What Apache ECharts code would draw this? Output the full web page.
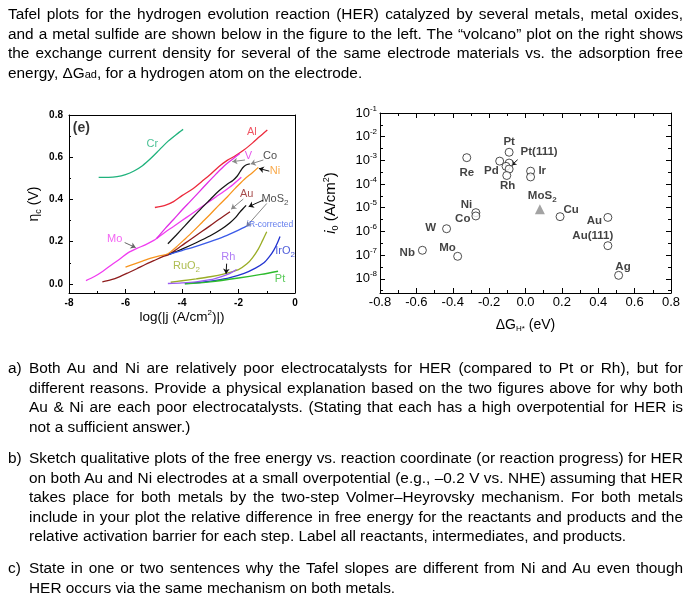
<!DOCTYPE html>
<html>
<head>
<meta charset="utf-8">
<script src="https://cdn.jsdelivr.net/npm/echarts@6/dist/echarts.min.js"></script>
<style>
  body { margin: 0; background: #fff; }
  #wrap { position: relative; width: 693px; height: 613px; overflow: hidden;
          font-family: "Liberation Sans", Arial, sans-serif; color: #000; }
  #chart { position: absolute; left: 0; top: 0; width: 693px; height: 613px; }
  .para { position: absolute; font-size: 15.4px; line-height: 19.6px; }
  .ln { white-space: nowrap; text-align: justify; text-align-last: justify; }
  .ln.last { text-align-last: left; }
  .tag { position: absolute; left: -21px; top: 0; }
  .sm { font-size: 11px; }
</style>
</head>
<body>
<div id="wrap">
  <div id="chart"></div>

  <div class="para" style="left:8px;top:4px;width:675px;">
    <div class="ln">Tafel plots for the hydrogen evolution reaction (HER) catalyzed by several metals, metal oxides,</div>
    <div class="ln">and a metal sulfide are shown below in the figure to the left. The “volcano” plot on the right shows</div>
    <div class="ln">the exchange current density for several of the same electrode materials vs. the adsorption free</div>
    <div class="ln last">energy, ΔG<span class="sm">ad</span>, for a hydrogen atom on the electrode.</div>
  </div>

  <div class="para" style="left:29px;top:358px;width:654px;">
    <span class="tag">a)</span>
    <div class="ln">Both Au and Ni are relatively poor electrocatalysts for HER (compared to Pt or Rh), but for</div>
    <div class="ln">different reasons. Provide a physical explanation based on the two figures above for why both</div>
    <div class="ln">Au &amp; Ni are each poor electrocatalysts. (Stating that each has a high overpotential for HER is</div>
    <div class="ln last">not a sufficient answer.)</div>
  </div>

  <div class="para" style="left:29px;top:448px;width:654px;">
    <span class="tag">b)</span>
    <div class="ln">Sketch qualitative plots of the free energy vs. reaction coordinate (or reaction progress) for HER</div>
    <div class="ln">on both Au and Ni electrodes at a small overpotential (e.g., –0.2 V vs. NHE) assuming that HER</div>
    <div class="ln">takes place for both metals by the two-step Volmer–Heyrovsky mechanism. For both metals</div>
    <div class="ln">include in your plot the relative difference in free energy for the reactants and products and the</div>
    <div class="ln last">relative activation barrier for each step. Label all reactants, intermediates, and products.</div>
  </div>

  <div class="para" style="left:29px;top:558px;width:654px;">
    <span class="tag">c)</span>
    <div class="ln">State in one or two sentences why the Tafel slopes are different from Ni and Au even though</div>
    <div class="ln last">HER occurs via the same mechanism on both metals.</div>
  </div>
</div>

<script>
// ---- Tafel plots (left): [log|j| , eta_c (V)]
const crCurve = [[-6.95,0.505],[-6.6,0.505],[-6.3,0.508],[-6.0,0.518],[-5.7,0.535],[-5.4,0.56],[-5.1,0.595],[-4.8,0.635],[-4.5,0.675],[-4.2,0.708],[-3.96,0.732]];
const alCurve = [[-4.96,0.362],[-4.6,0.372],[-4.3,0.39],[-4.0,0.418],[-3.6,0.452],[-3.3,0.485],[-3.0,0.518],[-2.7,0.555],[-2.4,0.585],[-2.1,0.608],[-1.8,0.635],[-1.5,0.668],[-1.25,0.698],[-0.98,0.729]];
const vCurve = [[-4.9,0.215],[-4.6,0.262],[-4.3,0.305],[-4.0,0.35],[-3.7,0.392],[-3.4,0.435],[-3.1,0.478],[-2.8,0.52],[-2.5,0.56],[-2.2,0.592],[-1.95,0.618]];
const moCurve = [[-7.4,0.016],[-7.1,0.035],[-6.8,0.06],[-6.5,0.09],[-6.2,0.118],[-5.9,0.148],[-5.6,0.168],[-5.3,0.185],[-5.0,0.206],[-4.9,0.215],[-4.6,0.245],[-4.3,0.272],[-4.0,0.3],[-3.7,0.328],[-3.4,0.356],[-3.1,0.384],[-2.8,0.412],[-2.5,0.44],[-2.2,0.47],[-1.9,0.505]];
const coCurve = [[-4.5,0.19],[-4.2,0.232],[-3.9,0.275],[-3.6,0.318],[-3.3,0.36],[-3.0,0.4],[-2.7,0.44],[-2.4,0.472],[-2.2,0.49],[-2.05,0.51],[-1.95,0.53],[-1.85,0.55],[-1.75,0.562],[-1.6,0.568]];
const niCurve = [[-6.0,0.08],[-5.7,0.094],[-5.4,0.108],[-5.1,0.122],[-4.8,0.133],[-4.5,0.142],[-4.2,0.175],[-3.9,0.212],[-3.6,0.25],[-3.3,0.29],[-3.0,0.33],[-2.7,0.372],[-2.4,0.412],[-2.1,0.455],[-1.8,0.495],[-1.5,0.528],[-1.3,0.552]];
const auCurve = [[-6.82,0.01],[-6.5,0.02],[-6.2,0.035],[-5.9,0.053],[-5.6,0.072],[-5.3,0.092],[-5.0,0.11],[-4.7,0.128],[-4.45,0.14],[-4.2,0.163],[-3.9,0.192],[-3.6,0.22],[-3.3,0.248],[-3.0,0.276],[-2.7,0.305],[-2.3,0.342]];
const mos2Curve = [[-4.45,0.14],[-4.0,0.165],[-3.5,0.195],[-3.0,0.228],[-2.6,0.26],[-2.3,0.29],[-2.1,0.315],[-1.95,0.34],[-1.85,0.355],[-1.73,0.372]];
const irCorrCurve = [[-4.45,0.14],[-4.0,0.158],[-3.5,0.178],[-3.0,0.2],[-2.5,0.225],[-2.0,0.255],[-1.7,0.275]];
const ruo2Curve = [[-4.4,0.008],[-4.0,0.015],[-3.5,0.024],[-3.0,0.034],[-2.5,0.048],[-2.0,0.068],[-1.7,0.095],[-1.5,0.125],[-1.3,0.165],[-1.15,0.205],[-1.0,0.247]];
const iro2Curve = [[-3.9,0.002],[-3.3,0.008],[-2.8,0.017],[-2.3,0.03],[-1.8,0.05],[-1.4,0.075],[-1.1,0.1],[-0.9,0.13],[-0.75,0.16],[-0.62,0.195],[-0.53,0.225]];
const rhCurve = [[-4.5,0.002],[-4.0,0.005],[-3.5,0.01],[-3.0,0.02],[-2.6,0.035],[-2.3,0.05],[-2.07,0.068]];
const ptCurve = [[-3.9,0.0],[-3.0,0.01],[-2.0,0.028],[-1.2,0.045],[-0.6,0.06]];

// ---- volcano plot (right)
const metals = ['Re','Pd','Pt','Pt(111)','Pt(111)','Pt(111)','Rh','Ir','Ir','Ni','Co','W','Nb','Mo','Cu','Au','Au(111)','Ag'];
const dGH = [-0.323,-0.142,-0.09,-0.09,-0.107,-0.09,-0.103,0.028,0.028,-0.273,-0.273,-0.434,-0.567,-0.373,0.19,0.453,0.453,0.512];
const i0 = [1.3e-3,9.3e-4,2.2e-3,7.7e-4,5.6e-4,4.3e-4,2.3e-4,3.5e-4,2.0e-4,6.2e-6,4.5e-6,1.3e-6,1.6e-7,8.9e-8,4.2e-6,3.9e-6,2.5e-7,1.4e-8];
const mos2DG = [0.079];
const mos2I0 = [8.7e-6];
const logTicks = [-8,-7,-6,-5,-4,-3,-2,-1];
const logMinor = [-8.5,-7.5,-6.5,-5.5,-4.5,-3.5,-2.5,-1.5];
</script>
<script>
var F = '"Liberation Sans", Arial, sans-serif';
var chart = echarts.init(document.getElementById('chart'));

var tafel = [
  ['Cr', crCurve, '#1fb27c'],
  ['Al', alCurve, '#ec2a3c'],
  ['Mo', moCurve, '#f03cf0'],
  ['V', vCurve, '#e02ee6'],
  ['Co', coCurve, '#1a1a1a'],
  ['Ni', niCurve, '#f7941d'],
  ['Au', auCurve, '#8e1c1c'],
  ['MoS2', mos2Curve, '#111111'],
  ['iR', irCorrCurve, '#3a5ae8'],
  ['RuO2', ruo2Curve, '#9aad26'],
  ['IrO2', iro2Curve, '#2233d0'],
  ['Rh', rhCurve, '#9b5cf2'],
  ['Pt', ptCurve, '#2dbb2d']
];

// label anchors (annotation positions in data units)
var tafelLabels = [
  ['(e)', -7.56, 0.737, '#000', 14, 'bold'],
  ['Cr', -5.05, 0.662, '#1fb27c'],
  ['Al', -1.53, 0.718, '#ec2a3c'],
  ['V', -1.65, 0.605, '#e02ee6'],
  ['Co', -0.88, 0.605, '#1a1a1a'],
  ['Ni', -0.71, 0.534, '#f7941d'],
  ['Au', -1.71, 0.428, '#8e1c1c'],
  ['MoS{k|2}', -0.71, 0.4, '#1a1a1a'],
  ['iR-corrected', -0.88, 0.283, '#3a5ae8', 8.5],
  ['Mo', -6.38, 0.215, '#f03cf0'],
  ['RuO{o|2}', -3.84, 0.085, '#9aad26'],
  ['Rh', -2.36, 0.128, '#9b5cf2'],
  ['IrO{b|2}', -0.35, 0.155, '#2233d0'],
  ['Pt', -0.53, 0.022, '#2dbb2d']
];
var tafelArrows = [
  [[-1.77,0.587],[-2.22,0.579],'#888'],
  [[-1.12,0.587],[-1.57,0.568],'#888'],
  [[-0.91,0.534],[-1.28,0.547],'#111'],
  [[-1.83,0.402],[-2.26,0.354],'#888'],
  [[-1.12,0.397],[-1.64,0.366],'#111'],
  [[-1.0,0.381],[-1.72,0.272],'#888'],
  [[-6.03,0.196],[-5.64,0.172],'#666'],
  [[-2.42,0.096],[-2.44,0.048],'#111']
];
var volcanoLabels = [
  ['Re',-0.323,-3.53],['Pd',-0.188,-3.45],['Pt',-0.09,-2.23],['Pt(111)',0.075,-2.65],
  ['Rh',-0.098,-4.07],['Ir',0.092,-3.45],['MoS{s|2}',0.092,-4.5],['Ni',-0.325,-4.86],
  ['Co',-0.345,-5.45],['W',-0.521,-5.83],['Nb',-0.65,-6.92],['Mo',-0.429,-6.68],
  ['Cu',0.251,-5.1],['Au',0.379,-5.56],['Au(111)',0.37,-6.19],['Ag',0.536,-7.48]
];

function fix(v, d) { return (Math.abs(v) < 1e-9 ? 0 : v).toFixed(d); }

var noSplit = { show: false };
var boxLine = { onZero: false, lineStyle: { color: '#000', width: 1 } };
var hiddenLine = { show: false, onZero: false };

var series = tafel.map(function (t) {
  return {
    type: 'line', name: t[0], xAxisIndex: 0, yAxisIndex: 0, data: t[1],
    symbol: 'none', smooth: 0.3, silent: true, z: 3,
    lineStyle: { color: t[2], width: 1.3 }
  };
});

series.push({
  type: 'scatter', xAxisIndex: 0, yAxisIndex: 0, symbolSize: 1, silent: true, z: 5,
  itemStyle: { color: 'transparent' },
  label: {
    show: true, position: 'inside', fontFamily: F, fontSize: 11,
    formatter: function (p) { return p.name; },
    rich: {
      k: { fontSize: 8, color: '#1a1a1a', padding: [7, 0, 0, 0] },
      o: { fontSize: 8, color: '#9aad26', padding: [7, 0, 0, 0] },
      b: { fontSize: 8, color: '#2233d0', padding: [7, 0, 0, 0] }
    }
  },
  data: tafelLabels.map(function (l) {
    return {
      name: l[0], value: [l[1], l[2]],
      label: { color: l[3], fontSize: l[4] || 11, fontWeight: l[5] || 'normal' }
    };
  })
});

series.push({
  type: 'lines', coordinateSystem: 'cartesian2d', xAxisIndex: 0, yAxisIndex: 0,
  symbol: ['none', 'arrow'], symbolSize: 5, silent: true, z: 4,
  lineStyle: { width: 1, opacity: 1, curveness: 0 },
  data: tafelArrows.map(function (a) {
    return { coords: [a[0], a[1]], lineStyle: { color: a[2] } };
  })
});

series.push({
  type: 'scatter', xAxisIndex: 2, yAxisIndex: 3, symbol: 'circle', symbolSize: 8, silent: true,
  itemStyle: { color: '#fff', borderColor: '#222', borderWidth: 1 },
  data: dGH.map(function (x, i) { return [x, Math.log10(i0[i])]; })
});
series.push({
  type: 'scatter', xAxisIndex: 2, yAxisIndex: 3, symbol: 'triangle', symbolSize: 10, silent: true,
  itemStyle: { color: '#8c8c8c' },
  data: mos2DG.map(function (x, i) { return [x, Math.log10(mos2I0[i])]; })
});
series.push({
  type: 'scatter', xAxisIndex: 2, yAxisIndex: 3, symbolSize: 1, silent: true, z: 5,
  itemStyle: { color: 'transparent' },
  label: {
    show: true, position: 'inside', fontFamily: F, fontSize: 11.5, fontWeight: 'bold', color: '#111',
    formatter: function (p) { return p.name; },
    rich: { s: { fontSize: 8, fontWeight: 'bold', color: '#111', padding: [7, 0, 0, 0] } }
  },
  data: volcanoLabels.map(function (l) { return { name: l[0], value: [l[1], l[2]] }; })
});
series.push({
  type: 'lines', coordinateSystem: 'cartesian2d', xAxisIndex: 2, yAxisIndex: 3,
  symbol: ['none', 'arrow'], symbolSize: 5, silent: true,
  lineStyle: { width: 1, color: '#111', opacity: 1 },
  data: [{ coords: [[-0.043, -2.97], [-0.078, -3.22]] }]
});

var option = {
  animation: false,
  textStyle: { fontFamily: F },
  grid: [
    { left: 69, top: 115, width: 226, height: 178 },
    { left: 380, top: 113, width: 291, height: 180 }
  ],
  xAxis: [
    { gridIndex: 0, type: 'value', min: -8, max: 0, interval: 2, position: 'bottom',
      axisLine: boxLine,
      axisTick: { inside: true, length: 4, lineStyle: { color: '#000' } },
      minorTick: { show: true, splitNumber: 2, length: 2, lineStyle: { color: '#000' } },
      axisLabel: { fontSize: 10, fontWeight: 'bold', color: '#000', margin: 5, formatter: function (v) { return fix(v, 0); } },
      splitLine: noSplit,
      name: 'log(|j (A/cm{sup|2})|)', nameLocation: 'middle', nameGap: 14,
      nameTextStyle: { fontSize: 13.5, color: '#000', rich: { sup: { fontSize: 8, padding: [0, 0, 8, 0] } } } },
    { gridIndex: 0, type: 'value', min: -8, max: 0, position: 'top',
      axisLine: boxLine, axisTick: { show: false }, axisLabel: { show: false }, splitLine: noSplit },
    { gridIndex: 1, type: 'value', min: -0.8, max: 0.8, interval: 0.2, position: 'bottom',
      axisLine: boxLine,
      axisTick: { inside: true, length: 5, lineStyle: { color: '#000' } },
      minorTick: { show: true, splitNumber: 2, length: 3, lineStyle: { color: '#000' } },
      axisLabel: { fontSize: 13, color: '#000', margin: 3, formatter: function (v) { return fix(v, 1); } },
      splitLine: noSplit,
      name: '{n|ΔG}{sub|H*}{n| (eV)}', nameLocation: 'middle', nameGap: 24,
      nameTextStyle: { fontSize: 14, color: '#000',
        rich: { n: { fontSize: 14 }, sub: { fontSize: 8, padding: [8, 0, 0, 0] } } } },
    { gridIndex: 1, type: 'value', min: -0.8, max: 0.8, interval: 0.2, position: 'top',
      axisLine: boxLine,
      axisTick: { inside: true, length: 5, lineStyle: { color: '#000' } },
      minorTick: { show: true, splitNumber: 2, length: 3, lineStyle: { color: '#000' } },
      axisLabel: { show: false }, splitLine: noSplit }
  ],
  yAxis: [
    { gridIndex: 0, type: 'value', min: -0.043, max: 0.8, position: 'left',
      axisLine: boxLine,
      axisTick: { inside: true, length: 4, customValues: [0, 0.2, 0.4, 0.6, 0.8], lineStyle: { color: '#000' } },
      axisLabel: { fontSize: 10, fontWeight: 'bold', color: '#000', margin: 6, customValues: [0, 0.2, 0.4, 0.6, 0.8],
        formatter: function (v) { return fix(v, 1); } },
      splitLine: noSplit,
      name: '{n|η}{sub|c}{n| (V)}', nameLocation: 'middle', nameRotate: 90, nameGap: 26,
      nameTextStyle: { fontSize: 14, color: '#000',
        rich: { n: { fontSize: 14 }, sub: { fontSize: 9, padding: [8, 0, 0, 0] } } } },
    { gridIndex: 0, type: 'value', min: -0.043, max: 0.8, position: 'left',
      axisLine: hiddenLine,
      axisTick: { inside: true, length: 2, customValues: [0.1, 0.3, 0.5, 0.7], lineStyle: { color: '#000' } },
      axisLabel: { show: false }, splitLine: noSplit },
    { gridIndex: 0, type: 'value', min: -0.043, max: 0.8, position: 'right',
      axisLine: boxLine, axisTick: { show: false }, axisLabel: { show: false }, splitLine: noSplit },
    { gridIndex: 1, type: 'value', min: -8.6, max: -1, position: 'left',
      axisLine: boxLine,
      axisTick: { inside: true, length: 5, customValues: logTicks, lineStyle: { color: '#000' } },
      axisLabel: { color: '#000', margin: 3, customValues: logTicks,
        formatter: function (v) { return '{b|10}{s|' + Math.round(v) + '}'; },
        rich: { b: { fontSize: 13, color: '#000' }, s: { fontSize: 8, color: '#000', padding: [0, 0, 9, 0] } } },
      splitLine: noSplit,
      name: '{it|i}{sub|0}{n| (A/cm}{sup|2}{n|)}', nameLocation: 'middle', nameRotate: 90, nameGap: 40,
      nameTextStyle: { fontSize: 15, color: '#000',
        rich: { it: { fontSize: 15, fontStyle: 'italic' }, n: { fontSize: 15 },
                sub: { fontSize: 9, padding: [9, 0, 0, 0] }, sup: { fontSize: 9, padding: [0, 0, 9, 0] } } } },
    { gridIndex: 1, type: 'value', min: -8.6, max: -1, position: 'left',
      axisLine: hiddenLine,
      axisTick: { inside: true, length: 3, customValues: logMinor, lineStyle: { color: '#000' } },
      axisLabel: { show: false }, splitLine: noSplit },
    { gridIndex: 1, type: 'value', min: -8.6, max: -1, position: 'right',
      axisLine: boxLine,
      axisTick: { inside: true, length: 5, customValues: logTicks, lineStyle: { color: '#000' } },
      axisLabel: { show: false }, splitLine: noSplit },
    { gridIndex: 1, type: 'value', min: -8.6, max: -1, position: 'right',
      axisLine: hiddenLine,
      axisTick: { inside: true, length: 3, customValues: logMinor, lineStyle: { color: '#000' } },
      axisLabel: { show: false }, splitLine: noSplit }
  ],
  series: series
};
chart.setOption(option);
</script>
</body>
</html>
